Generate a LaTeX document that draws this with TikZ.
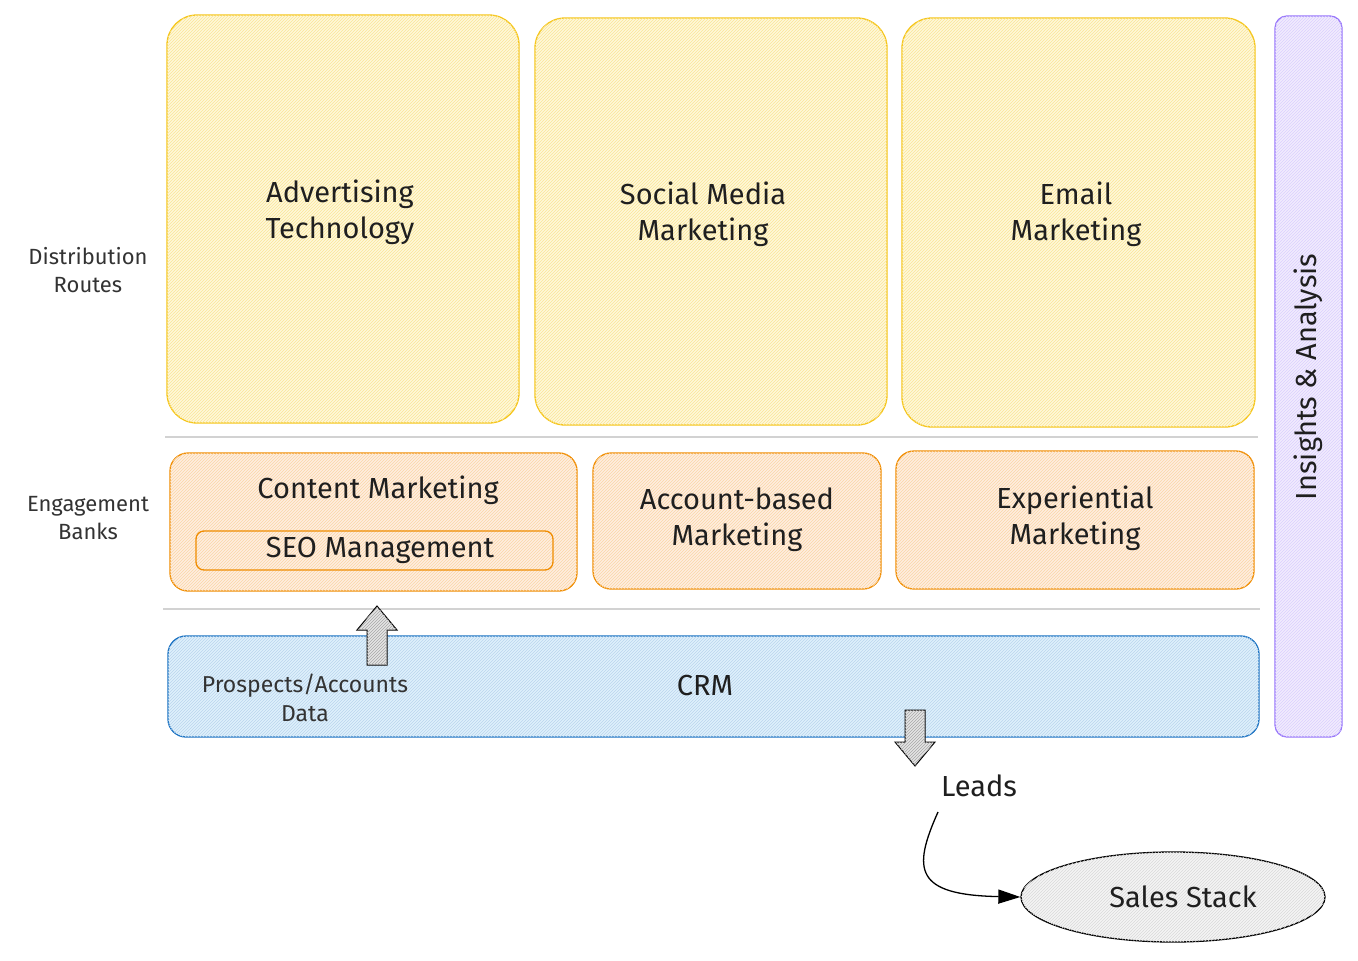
\documentclass[tikz,border=0pt]{standalone}
\usepackage{fontspec}
\setmainfont{Fira Sans}
\usetikzlibrary{shapes.geometric,arrows.meta,patterns}
\definecolor{ystroke}{HTML}{F5C518}
\definecolor{yfill}{HTML}{FFF8DA}
\definecolor{ostroke}{HTML}{F08C00}
\definecolor{ofill}{HTML}{FFEDE0}
\definecolor{bstroke}{HTML}{1971C2}
\definecolor{bfill}{HTML}{DFF1FC}
\definecolor{pstroke}{HTML}{9775FA}
\definecolor{pfill}{HTML}{F1ECFE}
\begin{document}
\begin{tikzpicture}[x=1pt,y=-1pt,
  hatch/.style={postaction={pattern=north east lines, pattern color=#1}},
  box/.style={draw=#1, line width=1.3pt, rounded corners=30pt},
  ybox/.style={box=ystroke, fill=yfill, hatch=ystroke!45},
  obox/.style={box=ostroke, fill=ofill, rounded corners=18pt, hatch=ostroke!35},
  lbl/.style={font=\fontsize{29}{36}\selectfont, align=center, text=black!88},
  side/.style={font=\fontsize{22}{28}\selectfont, align=center, text=black!80},
  sep/.style={draw=gray!35, line width=1.5pt}]
\useasboundingbox (0,0) rectangle (1358,961);
% distribution
\draw[ybox] (167,15) rectangle (519,423);
\draw[ybox] (535,18) rectangle (887,425);
\draw[ybox] (902,18) rectangle (1255,427);
\node[lbl] (adv) at (340,212) {Advertising\\Technology};
\node[lbl] (soc) at (703,214) {Social Media\\Marketing};
\node[lbl] (eml) at (1076,214) {Email\\Marketing};
\draw[sep] (165,437) -- (1258,437);
\draw[sep] (163,609) -- (1260,609);
% engagement
\draw[obox] (170,453) rectangle (577,591);
\node[lbl] (cm) at (378,490) {Content Marketing};
\draw[box=ostroke, rounded corners=8pt] (196,531) rectangle (553,570);
\node[lbl] (seo) at (380,550) {SEO Management};
\draw[obox] (593,453) rectangle (881,589);
\node[lbl] (abm) at (737,520) {Account-based\\Marketing};
\draw[obox] (896,451) rectangle (1254,589);
\node[lbl] (exp) at (1075,518) {Experiential\\Marketing};
% side labels
\node[side] (dr) at (88,270) {Distribution\\Routes};
\node[side] (eb) at (88,518) {Engagement\\Banks};
% CRM
\draw[box=bstroke, fill=bfill, rounded corners=18pt, hatch=bstroke!30] (168,636) rectangle (1259,737);
\node[lbl] (crm) at (705,686) {CRM};
\node[side, font=\fontsize{23}{29}\selectfont] (pad) at (305,698) {Prospects/Accounts\\Data};
% insights
\draw[box=pstroke, fill=pfill, rounded corners=12pt, hatch=pstroke!35] (1275,16) rectangle (1342,737);
\node[lbl, rotate=90] (ins) at (1308,377) {Insights \& Analysis};
% block arrows
\draw[line width=1pt, fill=gray!20, hatch=gray!70] (377,606) -- (397,630) -- (387,630) -- (387,665) -- (367,665) -- (367,630) -- (357,630) -- cycle;
\draw[line width=1pt, fill=gray!20, hatch=gray!70] (915,766) -- (935,742) -- (925,742) -- (925,710) -- (905,710) -- (905,742) -- (895,742) -- cycle;
\node[lbl] (leads) at (979,786) {Leads};
% sales stack
\node[draw, ellipse, line width=1.3pt, fill=gray!8, hatch=gray!30, minimum width=304pt, minimum height=90pt] (ss) at (1173,897) {};
\node[lbl] at (1183,897) {Sales Stack};
\coordinate (c1) at (938,812);
\draw[line width=1.3pt, -{Triangle[length=22pt,width=14pt]}] (c1) .. controls (912,870) and (915,895) .. (ss.west);
\end{tikzpicture}
\end{document}
